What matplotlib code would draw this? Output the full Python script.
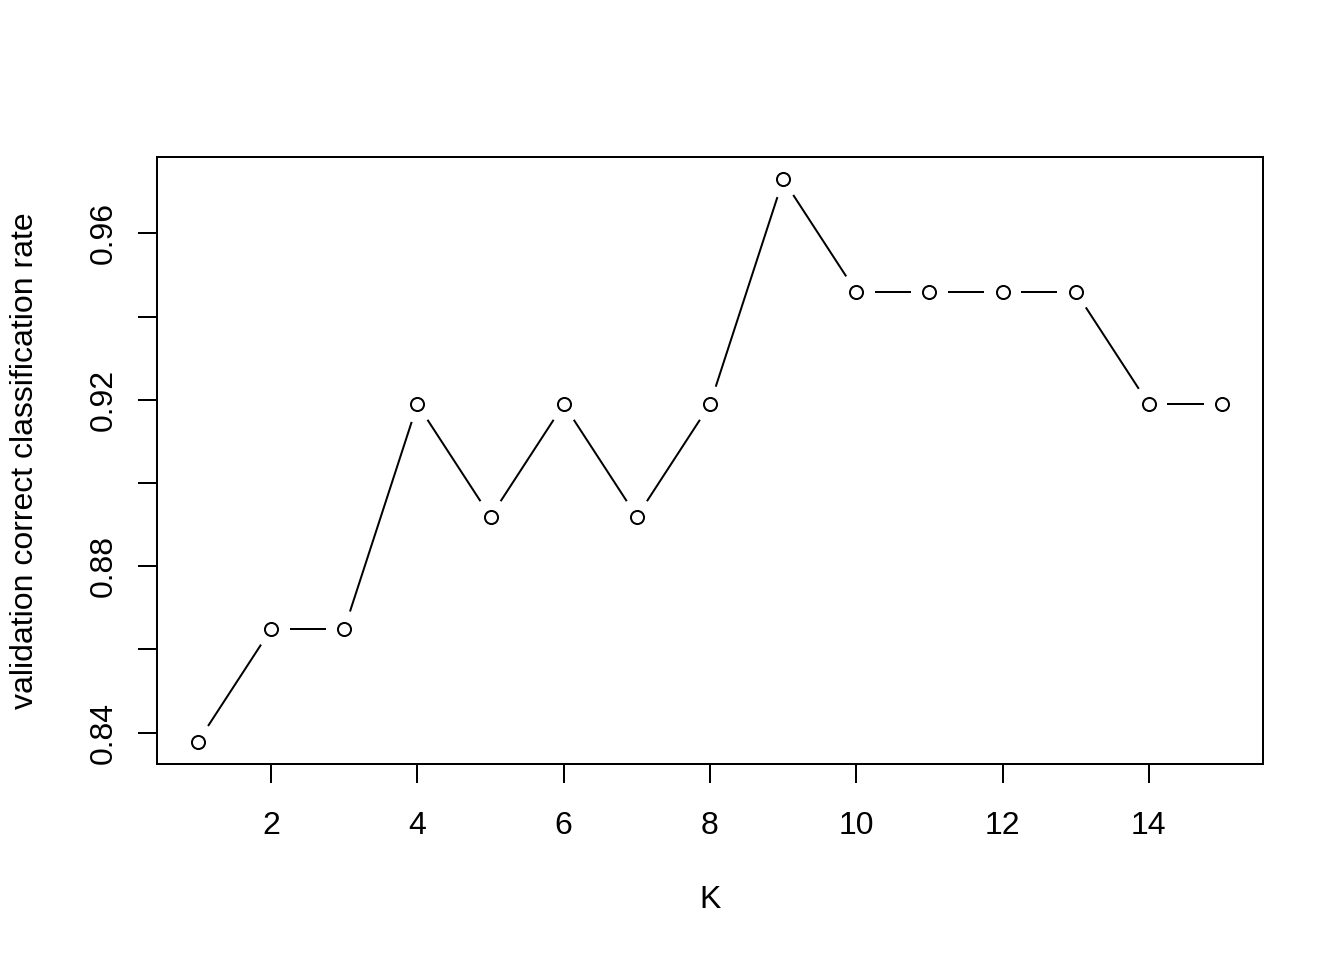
import matplotlib
matplotlib.use("Agg")
import matplotlib.pyplot as plt
import numpy as np

# validation results for K = 1..15 (37 validation cases)
k_values = list(range(1, 16))
correct = [31, 32, 32, 34, 33, 34, 33, 34, 36, 35, 35, 35, 35, 34, 34]
n_valid = 37
rate = [c / n_valid for c in correct]

x_ticks = [2, 4, 6, 8, 10, 12, 14]
y_ticks = [0.84, 0.86, 0.88, 0.90, 0.92, 0.94, 0.96]
y_tick_labels = ["0.84", "", "0.88", "", "0.92", "", "0.96"]

plt.rcParams['font.family'] = ['Liberation Sans', 'DejaVu Sans']

fig = plt.figure(figsize=(7, 5), dpi=192)
ax = fig.add_axes([157 / 1344, 1 - 764 / 960, (1263 - 157) / 1344, (764 - 157) / 960])

x = np.array(k_values, dtype=float)
y = np.array(rate)

# R style axis limits (4% padding)
xr = x.max() - x.min()
yr = y.max() - y.min()
ax.set_xlim(x.min() - 0.04 * xr, x.max() + 0.04 * xr)
ax.set_ylim(y.min() - 0.04 * yr, y.max() + 0.04 * yr)

ax.plot(x, y, linestyle="none", marker="o", markersize=4.9,
        markerfacecolor="white", markeredgecolor="black", markeredgewidth=0.75)

# type="b": segments with gaps around the points
fig.canvas.draw()
pts = ax.transData.transform(np.column_stack([x, y]))
gap = 19.5  # pixels
inv = ax.transData.inverted()
for i in range(len(pts) - 1):
    p0, p1 = pts[i], pts[i + 1]
    d = p1 - p0
    dist = np.hypot(*d)
    if dist <= 2 * gap:
        continue
    u = d / dist
    a = inv.transform(p0 + u * gap)
    b = inv.transform(p1 - u * gap)
    ax.plot([a[0], b[0]], [a[1], b[1]], color="black", linewidth=0.75)

ax.set_xticks(x_ticks)
ax.set_yticks(y_ticks)
ax.set_yticklabels(y_tick_labels, rotation=90, va="center")
ax.tick_params(axis="both", length=7.2, width=0.75, labelsize=12, direction="out")
ax.tick_params(axis="x", pad=10.5)
ax.tick_params(axis="y", pad=7)
for s in ax.spines.values():
    s.set_linewidth(0.75)

ax.set_xlabel("K", fontsize=12)
ax.set_ylabel("validation correct classification rate", fontsize=12)
ax.xaxis.set_label_coords(0.5, -(900 - 764) / 607, transform=ax.transAxes)
ax.yaxis.set_label_coords(-(157 - 25) / 1106, 0.5, transform=ax.transAxes)
ax.xaxis.label.set_va("center")
ax.yaxis.label.set_va("center")

fig.savefig("out.png", dpi=192)
